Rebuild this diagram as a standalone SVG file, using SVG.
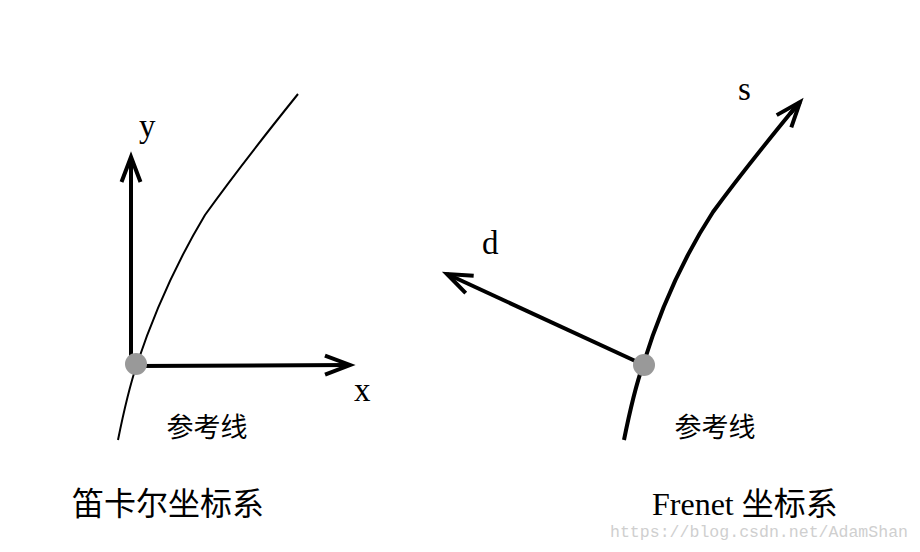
<svg xmlns="http://www.w3.org/2000/svg" width="920" height="552" viewBox="0 0 920 552">
<style>
.lbl{font-family:"Liberation Serif","Times New Roman",serif;font-size:33px;fill:#000}
.cn{font-family:"Liberation Serif","Noto Sans CJK SC",serif;font-size:27px;fill:#000}
.title{font-family:"Liberation Serif","Noto Sans CJK SC",serif;font-size:32px;fill:#000}
.wm{font-family:"Liberation Mono","DejaVu Sans Mono",monospace;font-size:16px;fill:#cfcfcf}
.thin{fill:none;stroke:#000;stroke-width:2}
.thick{fill:none;stroke:#000;stroke-width:4}
.dot{fill:#999}
</style>
<defs>
<marker id="arr" markerUnits="userSpaceOnUse" markerWidth="40" markerHeight="40" refX="0" refY="0" viewBox="-30 -15 40 30" orient="auto" overflow="visible">
<path d="M-25,-9.5 L0,0 L-25,9.5" fill="none" stroke="#000" stroke-width="4"/>
</marker>
</defs>
<rect width="920" height="552" fill="#fff"/>
<g id="cartesian">
<path class="thin" d="M118,440 C124,410 130,385 137,364 C155,310 178,260 205,215 C230,180 265,135 298,94"/>
<g id="connectors-left">
<line class="thick" x1="131" y1="364" x2="131" y2="157" marker-end="url(#arr)"/>
<line class="thick" x1="137" y1="366" x2="350" y2="365" marker-end="url(#arr)"/>
</g>
<circle class="dot" cx="136" cy="364" r="11"/>
<text class="lbl" x="139" y="137">y</text>
<text class="lbl" x="354" y="401">x</text>
<text class="cn" x="207" y="437" text-anchor="middle">参考线</text>
<text class="title" x="72" y="515">笛卡尔坐标系</text>
</g>
<g id="frenet">
<path class="thick" d="M624,440 C630,410 636,385 643,365 C660,310 685,255 713,212 C740,175 770,138 798,104"/>
<g id="connectors-right">
<path class="thick" d="M790,114 L800,102" marker-end="url(#arr)"/>
<line class="thick" x1="644" y1="365" x2="447" y2="274" marker-end="url(#arr)"/>
</g>
<circle class="dot" cx="644" cy="365" r="11"/>
<text class="lbl" x="738" y="100">s</text>
<text class="lbl" x="482" y="254">d</text>
<text class="cn" x="715" y="437" text-anchor="middle">参考线</text>
<text class="title" x="652" y="515">Frenet 坐标系</text>
</g>
<text class="wm" x="610" y="537" textLength="298" lengthAdjust="spacingAndGlyphs">https://blog.csdn.net/AdamShan</text>
</svg>
